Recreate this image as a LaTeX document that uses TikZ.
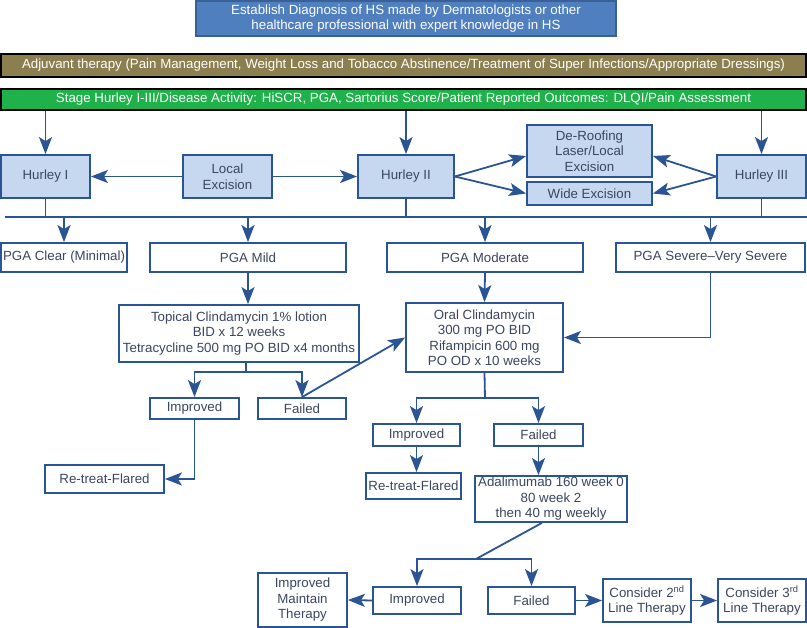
\documentclass[tikz,border=0pt]{standalone}
\usepackage{fontspec}
\setmainfont{Liberation Sans}
\usetikzlibrary{arrows.meta,calc}
\definecolor{lineblue}{HTML}{2A5595}
\definecolor{boxfill}{HTML}{C6D8F0}
\definecolor{topfill}{HTML}{4F7FBF}
\definecolor{topdraw}{HTML}{3A6195}
\definecolor{olive}{HTML}{8B7F4F}
\definecolor{greenbar}{HTML}{1FB24B}
\definecolor{txt}{HTML}{3A4660}
\tikzset{
  base/.style={inner sep=0pt, align=center, font=\fontsize{13.3}{15.5}\selectfont, text=txt, line width=1.8pt},
  bluebox/.style={base, draw=lineblue, fill=boxfill},
  whitebox/.style={base, draw=lineblue, fill=white},
  bar/.style={base, draw=black, text=white},
  conn/.style={draw=lineblue, line width=1.8pt},
  arr/.style={conn, -{Stealth[length=17pt,width=13pt,inset=4pt]}},
}
\newcommand{\bx}[7]{\node[#1, minimum width=#5-#4, minimum height=#7-#6] (#2) at ({(#4+#5)/2},{(#6+#7)/2}) {#3};}
\begin{document}
\begin{tikzpicture}[x=1pt,y=-1pt]
\useasboundingbox (0,0) rectangle (807,628);
% top bars
\node[base, draw=topdraw, fill=topfill, text=white, minimum width=420, minimum height=35] (diag) at (406,18.5) {Establish Diagnosis of HS made by Dermatologists or other\\healthcare professional with expert knowledge in HS};
\bx{bar, fill=olive}{adj}{Adjuvant therapy (Pain Management, Weight Loss and Tobacco Abstinence/Treatment of Super Infections/Appropriate Dressings)}{1}{806}{54}{77}
\bx{bar, fill=greenbar}{stage}{Stage Hurley I-III/Disease Activity: HiSCR, PGA, Sartorius Score/Patient Reported Outcomes: DLQI/Pain Assessment}{1}{806}{89}{110}
% hurley row
\bx{bluebox}{h1}{Hurley I}{1}{90}{155}{198}
\bx{bluebox}{lex}{Local\\Excision}{183}{272}{155}{198}
\bx{bluebox}{h2}{Hurley II}{358}{454}{155}{198}
\bx{bluebox}{deroof}{De-Roofing\\Laser/Local\\Excision}{527}{652}{125}{177}
\bx{bluebox}{wide}{Wide Excision}{527}{652}{182}{205}
\bx{bluebox}{h3}{Hurley III}{717}{806}{155}{198}
% PGA row
\bx{whitebox}{pgac}{PGA Clear (Minimal)}{1}{127}{243}{272}
\bx{whitebox}{pgam}{PGA Mild}{150}{346}{243}{272}
\bx{whitebox}{pgamod}{PGA Moderate}{387}{583}{243}{272}
\bx{whitebox}{pgas}{PGA Severe--Very Severe}{616}{805}{243}{272}
% treatments
\bx{whitebox}{top}{Topical Clindamycin 1\% lotion\\BID x 12 weeks\\Tetracycline 500 mg PO BID x4 months}{119}{359}{305}{362}
\bx{whitebox}{oral}{Oral Clindamycin\\300 mg PO BID\\Rifampicin 600 mg\\PO OD x 10 weeks}{406}{563}{303}{372}
\bx{whitebox}{imp1}{Improved}{150}{239}{398}{419}
\bx{whitebox}{fail1}{Failed}{258}{346}{398}{419}
\bx{whitebox}{re1}{Re-treat-Flared}{45}{164}{465}{493}
\bx{whitebox}{imp2}{Improved}{373}{460}{424}{446}
\bx{whitebox}{fail2}{Failed}{494}{583}{424}{446}
\bx{whitebox}{re2}{Re-treat-Flared}{366}{461}{473}{499}
\bx{whitebox}{adal}{Adalimumab 160 week 0\\80 week 2\\then 40 mg weekly}{475}{627}{476}{522}
\bx{whitebox}{imp3}{Improved}{373}{461}{587}{614}
\bx{whitebox}{fail3}{Failed}{488}{575}{587}{614}
\bx{whitebox}{maint}{Improved\\Maintain\\Therapy}{258}{347}{573}{627}
\bx{whitebox}{c2}{Consider 2\textsuperscript{nd}\\Line Therapy}{603}{691}{579}{622}
\bx{whitebox}{c3}{Consider 3\textsuperscript{rd}\\Line Therapy}{718}{806}{579}{622}
% connectors: stage to hurley
\draw[arr] (stage.south -| h1.north) -- (h1.north);
\draw[arr] (stage.south -| h2.north) -- (h2.north);
\draw[arr] (stage.south -| h3.north) -- (h3.north);
\draw[arr] (lex.west) -- (h1.east);
\draw[arr] (lex.east) -- (h2.west);
\draw[arr] (h2.east) -- ([yshift=-5pt]deroof.west);
\draw[arr] (h2.east) -- (wide.west);
\draw[arr] (h3.west) -- ([yshift=-5pt]deroof.east);
\draw[arr] (h3.west) -- (wide.east);
% bus
\coordinate (busL) at (5,217);
\coordinate (busR) at (807,217);
\draw[conn] (busL) -- (busR);
\draw[conn] (h1.south) -- (h1.south |- busL);
\draw[conn] (h2.south) -- (h2.south |- busL);
\draw[conn] (h3.south) -- (h3.south |- busL);
\draw[arr] (pgac.north |- busL) -- (pgac.north);
\draw[arr] (pgam.north |- busL) -- (pgam.north);
\draw[arr] (pgamod.north |- busL) -- (pgamod.north);
\draw[arr] (pgas.north |- busL) -- (pgas.north);
% PGA to treatments
\draw[arr] (pgam.south) -- (pgam.south |- top.north);
\draw[arr] (pgamod.south) -- (oral.north);
\draw[arr] (pgas.south) |- (oral.east);
% topical split
\coordinate (s1) at (246,372);
\draw[conn] (s1 |- top.south) -- (s1);
\draw[arr] (s1) -| (imp1.north);
\draw[arr] (s1) -| (fail1.north);
\draw[arr] (fail1.north) -- (oral.west);
\draw[arr] (imp1.south) |- (re1.east);
% oral split
\coordinate (s2) at (485,398);
\draw[conn] (oral.south) -- (s2);
\draw[arr] (s2) -| (imp2.north);
\draw[arr] (s2) -| (fail2.north);
\draw[arr] (imp2.south) -- (imp2.south |- re2.north);
\draw[arr] (fail2.south) -- (fail2.south |- adal.north);
% adalimumab split
\coordinate (s3) at (476,559);
\draw[conn] ([xshift=-9pt]adal.south) -- (s3);
\draw[arr] (s3) -| (imp3.north);
\draw[arr] (s3) -| (fail3.north);
\draw[arr] (imp3.west) -- (maint.east);
\draw[arr] (fail3.east) -- (c2.west);
\draw[arr] (c2.east) -- (c3.west);
\end{tikzpicture}
\end{document}
